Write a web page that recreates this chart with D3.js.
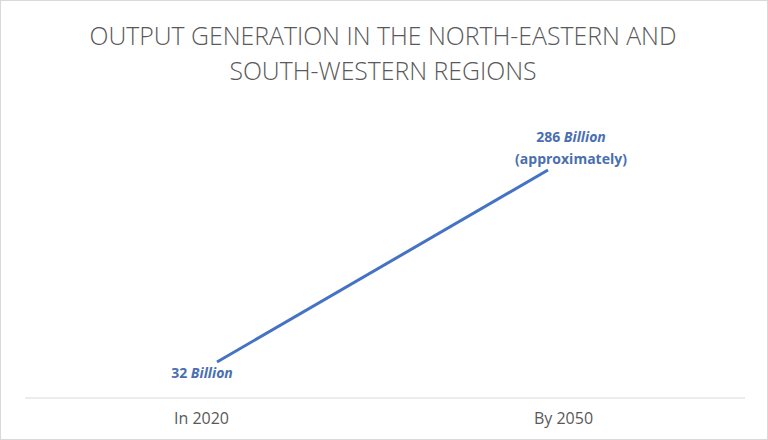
<!DOCTYPE html><html><head><meta charset="utf-8"><script src="https://cdn.jsdelivr.net/npm/d3@7"></script>
<style>body{margin:0;background:#fff}</style></head><body><svg id="c" width="768" height="440"></svg>
<script>
const categories = ["In 2020", "By 2050"];
const values = [32, 286];
const labelNums = ["32", "286"];
const titleLines = ["OUTPUT GENERATION IN THE NORTH-EASTERN AND", "SOUTH-WESTERN REGIONS"];

const svg = d3.select("#c");
const blue = "#4472C4", lab = "#4a6fb0";
svg.append("rect").attr("x",0.5).attr("y",0.5).attr("width",767).attr("height",439).attr("fill","none").attr("stroke","#d9d9d9");
svg.selectAll(".t").data(titleLines).join("text").attr("x",383).attr("y",(d,i)=>45+i*35)
  .attr("text-anchor","middle").attr("font-family","Open Sans").attr("font-weight",300)
  .attr("font-size",24.8).attr("fill","#595959").text(d=>d);

const x = d3.scalePoint().domain(categories).range([217,548]);
const xl = d3.scalePoint().domain(categories).range([201,563]);
const y = d3.scaleLinear().domain([32,286]).range([362,170]);

svg.append("line").attr("x1",25).attr("x2",745).attr("y1",398).attr("y2",398).attr("stroke","#d9d9d9").attr("stroke-width",1.2);
const ax = svg.append("g").attr("transform","translate(0,398)").call(d3.axisBottom(xl).tickSize(0).tickPadding(15));
ax.select(".domain").remove();
ax.selectAll("text").attr("font-family","Open Sans").attr("font-size",16).attr("fill","#595959");

svg.append("path").datum(values.map((v,i)=>[categories[i],v]))
  .attr("d",d3.line().x(d=>x(d[0])).y(d=>y(d[1]))).attr("fill","none").attr("stroke",blue).attr("stroke-width",3);

function lbl(i,dx,dy,extra){
  const t=svg.append("text").attr("x",x(categories[i])+dx).attr("y",y(values[i])+dy).attr("text-anchor","middle")
    .attr("font-family","Open Sans").attr("font-weight",700).attr("font-size",14).attr("fill",lab);
  t.append("tspan").text(labelNums[i]+" ");
  t.append("tspan").attr("font-style","italic").text("Billion");
  if(extra) svg.append("text").attr("x",x(categories[i])+dx).attr("y",y(values[i])+dy+22).attr("text-anchor","middle")
    .attr("font-family","Open Sans").attr("font-weight",700).attr("font-size",14).attr("fill",lab).text(extra);
}
lbl(0,-15,16);
lbl(1,23,-28,"(approximately)");
</script></body></html>
